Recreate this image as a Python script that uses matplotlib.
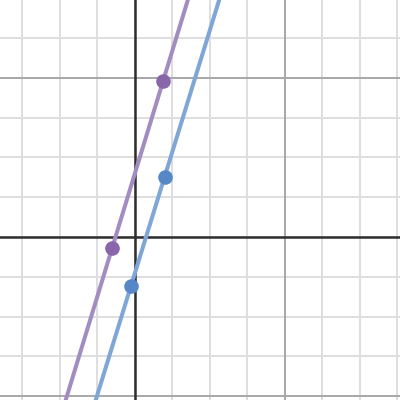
import matplotlib.pyplot as plt
import numpy as np

# two parallel lines, each through two marked points
purple_x = [-0.61, 0.75]
purple_y = [-0.28, 3.92]
blue_x = [-0.11, 0.79]
blue_y = [-1.24, 1.51]

x_lim = (-3.6, 7.07)
y_lim = (-4.10, 5.96)

fig = plt.figure(figsize=(4, 4), dpi=100)
ax = fig.add_axes([0, 0, 1, 1])
ax.set_xlim(x_lim)
ax.set_ylim(y_lim)

# minor grid
for gx in np.arange(-3, 8):
    ax.axvline(gx, color='#dedede', lw=1.4, zorder=0)
for gy in np.arange(-4, 6):
    ax.axhline(gy, color='#dedede', lw=1.4, zorder=0)
# major grid
for gx in [-4, 4]:
    ax.axvline(gx, color='#a8a8a8', lw=1.4, zorder=1)
for gy in [-4, 4]:
    ax.axhline(gy, color='#a8a8a8', lw=1.4, zorder=1)
# axes
ax.axvline(0, color='#2e2e2e', lw=1.8, zorder=2)
ax.axhline(0, color='#2e2e2e', lw=1.8, zorder=2)

ax.axline((purple_x[0], purple_y[0]), (purple_x[1], purple_y[1]),
          color='#a18dc0', lw=2.9, zorder=3)
ax.axline((blue_x[0], blue_y[0]), (blue_x[1], blue_y[1]),
          color='#7ea6d6', lw=2.9, zorder=3)
ax.plot(purple_x, purple_y, 'o', color='#8965a9', ms=10.5, mew=0, zorder=4)
ax.plot(blue_x, blue_y, 'o', color='#5688c8', ms=10.5, mew=0, zorder=4)

ax.set_xticks([])
ax.set_yticks([])
for s in ax.spines.values():
    s.set_visible(False)

fig.savefig('out.png', dpi=100)
